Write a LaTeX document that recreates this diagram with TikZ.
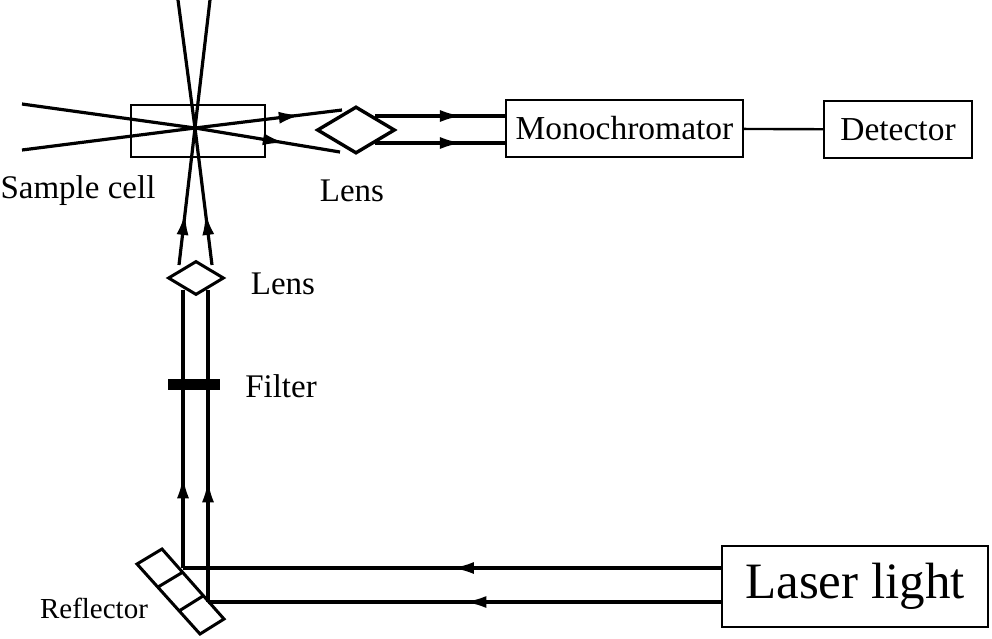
\documentclass[tikz,border=0pt]{standalone}
\usepackage{fontspec}
\setmainfont{Liberation Serif}
\usetikzlibrary{arrows.meta,shapes.geometric,decorations.markings}

\tikzset{
  optic/.style={draw,line width=3.4pt,inner sep=0pt},
  box/.style={draw,line width=2.4pt,inner sep=0pt,font=\fontsize{33.5}{33.5}\selectfont},
  lbl/.style={inner sep=0pt,font=\fontsize{33}{33}\selectfont},
  ray/.style={line width=3.2pt,decoration={markings,
      mark=at position #1 with {\arrow{Latex[length=22pt,width=12pt]}}},postaction={decorate}},
  ray/.default=0.5
}

\begin{document}
\begin{tikzpicture}[x=1pt,y=-1pt,line join=miter]
\useasboundingbox (0,0) rectangle (992,638);
% components
\node[box,minimum width=134pt,minimum height=52pt] (cell) at (198,131) {};
\node[optic,diamond,minimum width=78pt,minimum height=47pt] (lensA) at (356,130) {};
\node[box,minimum width=237pt,minimum height=57pt] (mono) at (624.5,128.5) {Monochromator};
\node[box,minimum width=148pt,minimum height=57pt] (det) at (898,129.5) {Detector};
\node[optic,diamond,minimum width=56pt,minimum height=34pt,line width=3pt] (lensB) at (196,278) {};
\node[fill=black,minimum width=52pt,minimum height=11pt,inner sep=0pt] (filter) at (194,384) {};
\node[box,minimum width=266pt,minimum height=81pt,font=\fontsize{51}{51}\selectfont] (laser) at (855,586.5) {Laser light};
% reflector
\draw[line width=3pt] (137,564) -- (162,549) -- (224,619) -- (200,634) -- cycle
  (158,587) -- (183,572) (179,611) -- (203,596);
% labels
\node[lbl] (lcell) at (78,191) {Sample cell};
\node[lbl] (llensA) at (352,191) {Lens};
\node[lbl] (llensB) at (283,284) {Lens};
\node[lbl] (lfilter) at (281,386) {Filter};
\node[lbl,font=\fontsize{29}{29}\selectfont] (lrefl) at (94,608) {Reflector};
% beam points
\coordinate (x) at (195,128);
\coordinate (t1) at (178,0);
\coordinate (t2) at (210,0);
\coordinate (b1) at (179,265);
\coordinate (b2) at (212,265);
\coordinate (h1) at (22,104);
\coordinate (h2) at (22,150);
\coordinate (e1) at (342,110);
\coordinate (e2) at (340,152);
\coordinate (m1) at (mono.west |- 0,116);
\coordinate (m2) at (mono.west |- 0,143);
\coordinate (r1) at (183,568);
\coordinate (r2) at (208,602);
\coordinate (q1) at (laser.west |- r1);
\coordinate (q2) at (laser.west |- r2);
% beams
\draw[ray=0.38] (b1) -- (x);
\draw[ray=0.38] (b2) -- (x);
\draw[line width=3.2pt] (h1) -- (x) (h2) -- (x) (x) -- (t1) (x) -- (t2);
\draw[ray=0.72] (x) -- (e1);
\draw[ray=0.62] (x) -- (e2);
\draw[ray=0.67] (375,116) -- (m1);
\draw[ray=0.67] (375,143) -- (m2);
\draw[line width=2.4pt] (mono) -- (det);
\draw[ray=0.5] (q1) -- (r1);
\draw[ray=0.5] (q2) -- (r2);
\draw[ray=0.33] (r1) -- (183,290);
\draw[ray=0.39] (r2) -- (208,290);
\end{tikzpicture}
\end{document}
